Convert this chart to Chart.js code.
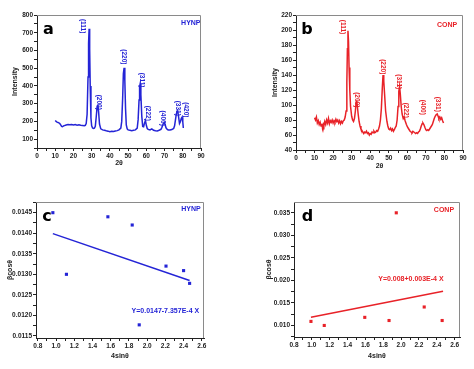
<!DOCTYPE html>
<html>
<head>
<meta charset="utf-8">
<script src="https://cdn.jsdelivr.net/npm/chart.js@4.4.1/dist/chart.umd.min.js"></script>
<style>
  body { margin: 0; background: #fff; }
  #wrap { position: relative; width: 474px; height: 369px; }
  canvas { position: absolute; }
</style>
</head>
<body>
<div id="wrap">
  <canvas id="chA" width="237" height="185" style="left:0;top:0"></canvas>
  <canvas id="chB" width="237" height="185" style="left:237px;top:0"></canvas>
  <canvas id="chC" width="237" height="184" style="left:0;top:185px"></canvas>
  <canvas id="chD" width="237" height="184" style="left:237px;top:185px"></canvas>
</div>
<script>
// XRD pattern, HYNP (panel a)
const hynpTheta = [10,10.5,11,11.5,12,12.5,13,13.5,14,14.5,15,16,17,18,19,20,21,22,23,24,25,26,26.5,27,27.5,28,28.3,28.6,28.9,29.2,29.6,30,30.5,31,31.5,32,32.5,33,33.4,33.8,34.3,35,36,37,38,39,40,41,42,43,44,45,46,46.5,47,47.4,47.8,48.2,48.6,49,49.5,50,51,52,53,54,55,55.5,56,56.3,56.6,57,57.5,58,58.5,59,59.5,60,60.5,61,62,63,64,65,66,67,68,68.5,69,69.5,69.9,70.3,70.8,71.5,72,73,74,75,75.5,76,76.5,77.2,77.7,78.2,78.7,79.2,79.6,80,80.3];
const hynpInt = [205,200,196,194,192,188,180,172,170,174,176,180,182,181,183,180,182,179,181,178,177,176,178,188,240,450,640,723,610,400,220,175,163,160,162,172,225,285,296,255,185,158,152,150,147,145,142,144,143,146,148,152,162,200,330,470,502,430,270,180,158,152,150,148,150,152,162,210,320,395,411,350,230,172,170,190,205,178,160,155,152,158,150,147,146,150,155,165,180,190,194,182,164,155,152,152,154,160,175,210,245,259,225,188,198,218,224,198,163];

// XRD pattern, CONP (panel b)
const conpTheta = [10,10.5,11,11.5,12,12.5,13,13.5,14,14.3,14.7,15,15.5,16,16.5,17,17.5,18,18.5,19,19.5,20,20.5,21,21.5,22,22.5,23,23.5,24,24.5,25,25.5,26,26.5,27,27.4,27.7,28,28.3,28.6,29,29.4,30,30.5,31,31.5,32,32.4,32.7,33,33.5,34,34.5,35,35.5,36,36.5,37,37.5,38,38.5,39,39.5,40,40.5,41,41.5,42,42.5,43,43.5,44,44.5,45,45.5,46,46.5,46.9,47.3,47.8,48.3,49,49.5,50,50.5,51,51.5,52,52.5,53,53.5,54,54.5,55,55.4,55.8,56.2,56.7,57.2,57.8,58.3,58.8,59.5,60,60.5,61,61.5,62,62.5,63,63.5,64,64.5,65,65.5,66,66.5,67,67.5,68,68.4,68.9,69.5,70,70.5,71,71.5,72,72.5,73,73.5,74,74.5,75,75.5,76.1,76.6,77,77.5,78,78.5,79,79.5];
const conpInt = [83,80,84,76,79,74,77,72,75,69,74,72,78,74,80,76,82,75,79,77,80,76,79,77,81,78,80,76,79,75,78,76,79,80,84,92,130,175,199,185,150,120,98,85,80,78,82,92,104,106,100,88,78,72,68,66,64,62,64,63,65,62,63,60,62,61,64,63,65,63,64,66,65,68,72,80,95,122,140,132,112,92,78,72,68,67,69,66,68,65,67,70,72,80,98,118,125,115,98,88,82,84,79,74,71,69,67,65,64,63,65,64,63,62,63,62,64,65,68,72,75,76,74,70,67,66,67,66,68,70,72,74,78,82,85,87,88,85,82,84,81,83,79,76];

// Williamson-Hall points
const hynpX = [0.965,1.114,1.569,1.836,1.913,2.207,2.40,2.466];
const hynpY = [0.0145,0.0130,0.0144,0.0142,0.01177,0.0132,0.01309,0.01278];
const hynpFitX = [0.965,2.466];
const hynpFitY = [0.01399,0.01285];

const conpX = [0.99,1.139,1.593,1.865,1.946,2.259,2.46];
const conpY = [0.0109,0.0100,0.0118,0.0111,0.0350,0.0141,0.0111];
const conpFitX = [0.99,2.47];
const conpFitY = [0.0118,0.01758];

// peak labels
const hklA = ['(111)','(200)','(220)','(311)','(222)','(400)','(331)','(420)'];
const hklAx = [25.2,33.8,47.4,57.3,60.6,69.3,77.0,81.8];
const hklAy = [737,308,564,433,246,218,274,265];
const hklB = ['(111)','(200)','(220)','(311)','(222)','(400)','(331)'];
const hklBx = [25.0,32.5,46.7,55.5,59.1,68.6,76.5];
const hklBy = [204,107,151,131,93,97,101];

// tick labels
const twoThetaTicks = ['0','10','20','30','40','50','60','70','80','90'];
const aYTicks = ['100','200','300','400','500','600','700','800'];
const bYTicks = ['40','60','80','100','120','140','160','180','200','220'];
const whXTicks = ['0.8','1.0','1.2','1.4','1.6','1.8','2.0','2.2','2.4','2.6'];
const cYTicks = ['0.0115','0.0120','0.0125','0.0130','0.0135','0.0140','0.0145'];
const dYTicks = ['0.010','0.015','0.020','0.025','0.030','0.035'];

const BLUE = 'rgb(36,36,214)';
const RED = 'rgb(232,34,40)';
const INK = '#222';

function pts(xs, ys) { return xs.map((x, i) => ({x: x, y: ys[i]})); }

function axis(min, max, labels, size, title, titlePad) {
  const major = labels.map(Number);
  const step = major[1] - major[0];
  const all = [];
  major.forEach(v => { all.push(v); });
  major.forEach(v => {
    [v - step / 2, v + step / 2].forEach(m => {
      if (m >= min - 1e-9 && m <= max + 1e-9 && !all.some(a => Math.abs(a - m) < 1e-9)) all.push(m);
    });
  });
  all.sort((p, q) => p - q);
  return {
    type: 'linear', min: min, max: max,
    afterBuildTicks: s => { s.ticks = all.map(v => ({value: v})); },
    afterFit: s => { if (s.isHorizontal()) s.height = size; else s.width = size; },
    ticks: {
      autoSkip: false, maxRotation: 0, padding: 1, color: INK,
      font: {family: 'Liberation Sans', size: 6.5, weight: 'bold'},
      callback: v => { const i = major.findIndex(m => Math.abs(m - v) < 1e-9); return i < 0 ? '' : labels[i]; }
    },
    grid: {drawOnChartArea: false, tickLength: 3, color: INK, tickWidth: 1},
    border: {color: INK, width: 1},
    title: {display: true, text: title, color: INK, padding: {top: titlePad, bottom: titlePad},
      font: {family: 'Liberation Sans', size: 7, weight: 'bold'}}
  };
}

const frame = {
  id: 'frame',
  afterDraw(chart) {
    const a = chart.chartArea, c = chart.ctx;
    c.save();
    c.strokeStyle = '#8a8a8a';
    c.lineWidth = 1;
    c.beginPath();
    c.moveTo(a.left, a.top + 0.5);
    c.lineTo(a.right - 0.5, a.top + 0.5);
    c.lineTo(a.right - 0.5, a.bottom);
    c.stroke();
    c.restore();
  }
};

const notes = {
  id: 'notes',
  afterDatasetsDraw(chart, args, opts) {
    const c = chart.ctx, sx = chart.scales.x, sy = chart.scales.y;
    (opts.items || []).forEach(n => {
      c.save();
      c.translate(sx.getPixelForValue(n.x), sy.getPixelForValue(n.y));
      if (n.rot) c.rotate(n.rot);
      c.font = n.font;
      c.fillStyle = n.color;
      c.textAlign = 'center';
      c.textBaseline = 'middle';
      c.fillText(n.text, 0, 0);
      c.restore();
    });
  }
};

function hklNotes(texts, xs, ys, color) {
  return texts.map((t, i) => ({text: t, x: xs[i], y: ys[i], rot: Math.PI / 2, color: color,
    font: 'bold 6.5px "Liberation Sans"'}));
}
const letterFont = 'bold 16px "DejaVu Sans"';
const tagFont = 'bold 7px "Liberation Sans"';

function make(id, datasets, xAxis, yAxis, padding, items) {
  return new Chart(document.getElementById(id), {
    type: 'scatter',
    data: {datasets: datasets},
    options: {
      responsive: false, animation: false,
      layout: {padding: padding},
      scales: {x: xAxis, y: yAxis},
      plugins: {legend: {display: false}, tooltip: {enabled: false}, notes: {items: items}}
    },
    plugins: [frame, notes]
  });
}

// panel a
make('chA',
  [{data: pts(hynpTheta, hynpInt), showLine: true, borderColor: BLUE, borderWidth: 1.5, pointRadius: 0, tension: 0}],
  axis(0, 90, twoThetaTicks, 20, '2\u03b8', 1),
  axis(50, 800, aYTicks, 37, 'Intensity', 11),
  {left: 0, right: 36, top: 15, bottom: 17},
  hklNotes(hklA, hklAx, hklAy, BLUE).concat([
    {text: 'a', x: 6.2, y: 715, color: '#000', font: letterFont},
    {text: 'HYNP', x: 84.4, y: 753, color: BLUE, font: tagFont}
  ]));

// panel b
make('chB',
  [{data: pts(conpTheta, conpInt), showLine: true, borderColor: RED, borderWidth: 1.5, pointRadius: 0, tension: 0}],
  axis(0, 90, twoThetaTicks, 20, '2\u03b8', 0),
  axis(40, 220, bYTicks, 59, 'Intensity', 34),
  {left: 0, right: 11, top: 15, bottom: 15},
  hklNotes(hklB, hklBx, hklBy, RED).concat([
    {text: 'b', x: 5.9, y: 200, color: '#000', font: letterFont},
    {text: 'CONP', x: 81.4, y: 206.7, color: RED, font: tagFont}
  ]));

// panel c
make('chC',
  [{data: pts(hynpFitX, hynpFitY), showLine: true, borderColor: BLUE, borderWidth: 1.5, pointRadius: 0},
   {data: pts(hynpX, hynpY), pointStyle: 'rect', pointRadius: 2.2, backgroundColor: BLUE, borderColor: BLUE, borderWidth: 0}],
  axis(0.78, 2.624, whXTicks, 22, '4sin\u03b8', 0),
  axis(0.01145, 0.01476, cYTicks, 36, '\u03b2cos\u03b8', 6),
  {left: 0, right: 33, top: 17, bottom: 9},
  [{text: 'c', x: 0.9, y: 0.01441, color: '#000', font: letterFont},
   {text: 'HYNP', x: 2.48, y: 0.0146, color: BLUE, font: tagFont},
   {text: 'Y=0.0147-7.357E-4 X', x: 2.2, y: 0.01211, color: BLUE, font: tagFont}]);

// panel d
make('chD',
  [{data: pts(conpFitX, conpFitY), showLine: true, borderColor: RED, borderWidth: 1.5, pointRadius: 0},
   {data: pts(conpX, conpY), pointStyle: 'rect', pointRadius: 2.2, backgroundColor: RED, borderColor: RED, borderWidth: 0}],
  axis(0.8, 2.66, whXTicks, 23, '4sin\u03b8', 0),
  axis(0.00744, 0.0374, dYTicks, 57, '\u03b2cos\u03b8', 28),
  {left: 0, right: 14, top: 17, bottom: 9},
  [{text: 'd', x: 0.95, y: 0.0342, color: '#000', font: letterFont},
   {text: 'CONP', x: 2.48, y: 0.0357, color: RED, font: tagFont},
   {text: 'Y=0.008+0.003E-4 X', x: 2.11, y: 0.0204, color: RED, font: tagFont}]);
</script>
</body>
</html>
